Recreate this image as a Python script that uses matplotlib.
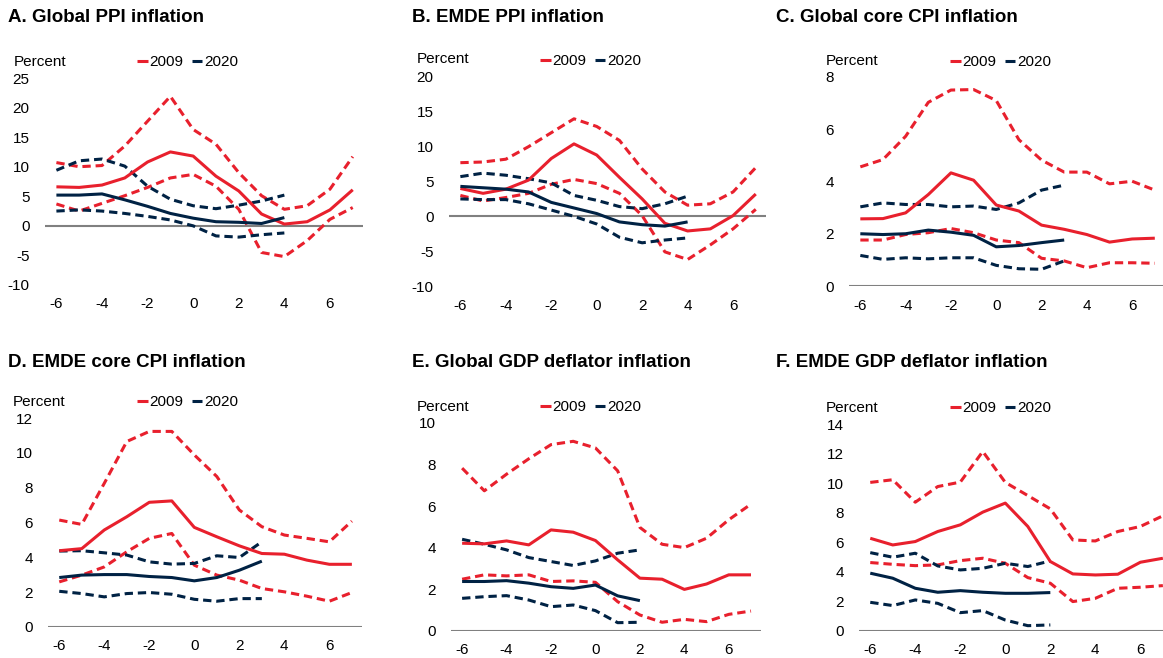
import matplotlib
matplotlib.use("Agg")
import matplotlib.pyplot as plt

# event time (years around the recession)
years = list(range(-6, 8))

# A. Global PPI inflation
ppi_glb_2009 = [6.6, 6.5, 6.9, 8.1, 10.8, 12.5, 11.8, 8.4, 5.9, 2.0, 0.3, 0.7, 2.7, 6.1]
ppi_glb_2009_hi = [10.7, 10.0, 10.2, 13.5, 17.7, 21.9, 16.3, 13.8, 9.0, 5.1, 2.8, 3.4, 6.2, 11.7]
ppi_glb_2009_lo = [3.7, 2.5, 3.8, 5.1, 6.5, 8.1, 8.7, 6.7, 2.8, -4.5, -5.2, -2.5, 1.1, 3.1]
ppi_glb_2020 = [5.2, 5.2, 5.4, 4.4, 3.3, 2.1, 1.3, 0.7, 0.6, 0.4, 1.4]
ppi_glb_2020_hi = [9.4, 11.0, 11.3, 10.1, 6.7, 4.5, 3.4, 2.9, 3.5, 4.2, 5.2]
ppi_glb_2020_lo = [2.5, 2.7, 2.5, 2.1, 1.6, 1.0, 0.0, -1.7, -1.9, -1.5, -1.2]

# B. EMDE PPI inflation
ppi_em_2009 = [4.0, 3.3, 3.9, 5.2, 8.3, 10.4, 8.8, 5.6, 2.5, -1.0, -2.1, -1.8, 0.1, 3.2]
ppi_em_2009_hi = [7.7, 7.8, 8.2, 10.0, 12.0, 14.0, 12.9, 10.9, 6.8, 3.5, 1.6, 1.8, 3.5, 7.0]
ppi_em_2009_lo = [3.0, 2.2, 2.7, 3.3, 4.6, 5.3, 4.7, 3.3, 0.1, -5.1, -6.2, -4.1, -1.8, 1.0]
ppi_em_2020 = [4.3, 4.1, 3.9, 3.5, 2.0, 1.2, 0.4, -0.8, -1.2, -1.4, -0.8]
ppi_em_2020_hi = [5.7, 6.2, 5.9, 5.4, 4.8, 3.0, 2.3, 1.4, 1.1, 1.8, 2.9]
ppi_em_2020_lo = [2.5, 2.4, 2.4, 1.8, 0.9, 0.0, -1.1, -3.0, -3.8, -3.4, -3.1]

# C. Global core CPI inflation
cpi_glb_2009 = [2.57, 2.58, 2.8, 3.5, 4.33, 4.05, 3.1, 2.87, 2.33, 2.17, 1.97, 1.68, 1.8, 1.83]
cpi_glb_2009_hi = [4.56, 4.84, 5.73, 7.03, 7.5, 7.52, 7.1, 5.6, 4.82, 4.36, 4.36, 3.91, 4.01, 3.67]
cpi_glb_2009_lo = [1.76, 1.76, 1.97, 2.04, 2.2, 2.04, 1.76, 1.66, 1.06, 0.96, 0.7, 0.89, 0.89, 0.87]
cpi_glb_2020 = [2.0, 1.97, 2.0, 2.14, 2.06, 1.94, 1.5, 1.55, 1.66, 1.76]
cpi_glb_2020_hi = [3.03, 3.18, 3.12, 3.12, 3.03, 3.06, 2.93, 3.18, 3.67, 3.86]
cpi_glb_2020_lo = [1.17, 1.02, 1.08, 1.04, 1.08, 1.08, 0.79, 0.66, 0.64, 0.96]

# D. EMDE core CPI inflation
cpi_em_2009 = [4.38, 4.5, 5.57, 6.33, 7.16, 7.24, 5.72, 5.18, 4.66, 4.22, 4.18, 3.84, 3.6, 3.6]
cpi_em_2009_hi = [6.14, 5.89, 8.25, 10.65, 11.23, 11.23, 9.88, 8.64, 6.72, 5.76, 5.28, 5.09, 4.89, 6.08]
cpi_em_2009_lo = [2.59, 2.98, 3.45, 4.32, 5.09, 5.37, 3.55, 2.98, 2.69, 2.21, 2.02, 1.77, 1.48, 1.98]
cpi_em_2020 = [2.84, 2.98, 3.01, 3.01, 2.9, 2.84, 2.65, 2.84, 3.26, 3.78]
cpi_em_2020_hi = [4.36, 4.38, 4.26, 4.13, 3.74, 3.61, 3.65, 4.09, 3.99, 4.89]
cpi_em_2020_lo = [2.05, 1.92, 1.73, 1.92, 1.98, 1.88, 1.59, 1.48, 1.63, 1.63]

# E. Global GDP deflator inflation
defl_glb_2009 = [4.22, 4.19, 4.33, 4.14, 4.86, 4.75, 4.35, 3.42, 2.54, 2.49, 2.0, 2.26, 2.7, 2.7]
defl_glb_2009_hi = [7.83, 6.74, 7.54, 8.28, 8.96, 9.12, 8.8, 7.7, 4.98, 4.17, 4.01, 4.46, 5.35, 6.1]
defl_glb_2009_lo = [2.49, 2.7, 2.65, 2.7, 2.38, 2.41, 2.34, 1.41, 0.77, 0.42, 0.56, 0.45, 0.8, 0.96]
defl_glb_2020 = [2.38, 2.38, 2.42, 2.3, 2.13, 2.05, 2.21, 1.69, 1.46]
defl_glb_2020_hi = [4.41, 4.17, 3.9, 3.53, 3.34, 3.15, 3.37, 3.74, 3.9]
defl_glb_2020_lo = [1.57, 1.65, 1.7, 1.49, 1.17, 1.25, 0.98, 0.4, 0.42]

# F. EMDE GDP deflator inflation
defl_em_2009 = [6.27, 5.82, 6.05, 6.73, 7.18, 8.04, 8.65, 7.07, 4.7, 3.86, 3.79, 3.84, 4.65, 4.92]
defl_em_2009_hi = [10.05, 10.23, 8.71, 9.77, 10.07, 12.14, 10.05, 9.16, 8.26, 6.16, 6.09, 6.73, 7.07, 7.79]
defl_em_2009_lo = [4.63, 4.51, 4.42, 4.47, 4.76, 4.92, 4.58, 3.61, 3.23, 1.99, 2.21, 2.89, 2.96, 3.07]
defl_em_2020 = [3.91, 3.57, 2.89, 2.62, 2.73, 2.62, 2.55, 2.55, 2.6]
defl_em_2020_hi = [5.3, 4.99, 5.26, 4.4, 4.13, 4.24, 4.58, 4.36, 4.74]
defl_em_2020_lo = [1.94, 1.72, 2.1, 1.87, 1.24, 1.38, 0.74, 0.36, 0.41]

titles = ["A. Global PPI inflation", "B. EMDE PPI inflation", "C. Global core CPI inflation",
          "D. EMDE core CPI inflation", "E. Global GDP deflator inflation",
          "F. EMDE GDP deflator inflation"]
ylims = [(-10, 25), (-10, 20), (0, 8), (0, 12), (0, 10), (0, 14)]
ysteps = [5, 5, 2, 2, 2, 2]

panels = [
    (ppi_glb_2009, ppi_glb_2009_hi, ppi_glb_2009_lo, ppi_glb_2020, ppi_glb_2020_hi, ppi_glb_2020_lo),
    (ppi_em_2009, ppi_em_2009_hi, ppi_em_2009_lo, ppi_em_2020, ppi_em_2020_hi, ppi_em_2020_lo),
    (cpi_glb_2009, cpi_glb_2009_hi, cpi_glb_2009_lo, cpi_glb_2020, cpi_glb_2020_hi, cpi_glb_2020_lo),
    (cpi_em_2009, cpi_em_2009_hi, cpi_em_2009_lo, cpi_em_2020, cpi_em_2020_hi, cpi_em_2020_lo),
    (defl_glb_2009, defl_glb_2009_hi, defl_glb_2009_lo, defl_glb_2020, defl_glb_2020_hi, defl_glb_2020_lo),
    (defl_em_2009, defl_em_2009_hi, defl_em_2009_lo, defl_em_2020, defl_em_2020_hi, defl_em_2020_lo),
]

W, H = 1163, 658
# axes boxes in pixels: left, right, top, bottom
boxes = [(45, 363, 78, 285), (449, 766, 77, 286), (849, 1165, 77, 286),
         (48, 362, 418, 627), (451, 761, 423, 631), (859, 1173, 424, 631)]
title_pos = [(8, 18), (412, 18), (776, 18), (8, 362), (412, 362), (776, 362)]
percent_pos = [(14, 62), (417, 59), (826, 61), (13, 402), (417, 407), (826, 408)]
legend_pos = [(137, 62), (540, 61), (950, 62), (137, 402), (540, 407), (950, 408)]

red = "#E8202D"
navy = "#002244"
dash = (0, (6, 3.5))

plt.rcParams["font.family"] = ["Liberation Sans", "DejaVu Sans"]
plt.rcParams["font.size"] = 11
plt.rcParams["lines.scale_dashes"] = False
plt.rcParams["axes.unicode_minus"] = False

fig = plt.figure(figsize=(W / 100, H / 100), dpi=100)

for i, p in enumerate(panels):
    l, r, t, b = boxes[i]
    ax = fig.add_axes([l / W, 1 - b / H, (r - l) / W, (b - t) / H])
    y09, y09h, y09l, y20, y20h, y20l = p
    n = len(y20)
    ax.axhline(0, color="#808080", lw=1.5, zorder=1)
    ax.plot(years, y09h, color=red, lw=2.2, ls=dash, zorder=3)
    ax.plot(years, y09l, color=red, lw=2.2, ls=dash, zorder=3)
    ax.plot(years[:n], y20h, color=navy, lw=2.2, ls=dash, zorder=3)
    ax.plot(years[:n], y20l, color=navy, lw=2.2, ls=dash, zorder=3)
    h1, = ax.plot(years, y09, color=red, lw=2.2, zorder=4, solid_capstyle="butt")
    h2, = ax.plot(years[:n], y20, color=navy, lw=2.2, zorder=4, solid_capstyle="butt")

    lo, hi = ylims[i]
    ax.set_ylim(lo, hi)
    ax.set_yticks(range(lo, hi + 1, ysteps[i]))
    ax.set_xlim(-6.5, 7.45)
    ax.set_xticks(range(-6, 7, 2))
    for s in ax.spines.values():
        s.set_visible(False)
    ax.tick_params(length=0, labelsize=11, pad=9)
    ax.tick_params(axis="y", pad=11)
    ax.patch.set_alpha(0)

    lx, ly = legend_pos[i]
    ax.legend([h1, h2], ["2009", "2020"], ncol=2, frameon=False, loc="center left",
              bbox_to_anchor=(lx / W, 1 - ly / H), bbox_transform=fig.transFigure,
              borderpad=0, borderaxespad=0, handlelength=0.7, handletextpad=0.1,
              columnspacing=0.55, fontsize=11, handleheight=0.5)

    tx, ty = title_pos[i]
    fig.text(tx / W, 1 - ty / H, titles[i], fontsize=13.5, fontweight="bold", va="center", ha="left")
    px, py = percent_pos[i]
    fig.text(px / W, 1 - py / H, "Percent", fontsize=11, va="center", ha="left")

fig.savefig("out.png", dpi=100)
